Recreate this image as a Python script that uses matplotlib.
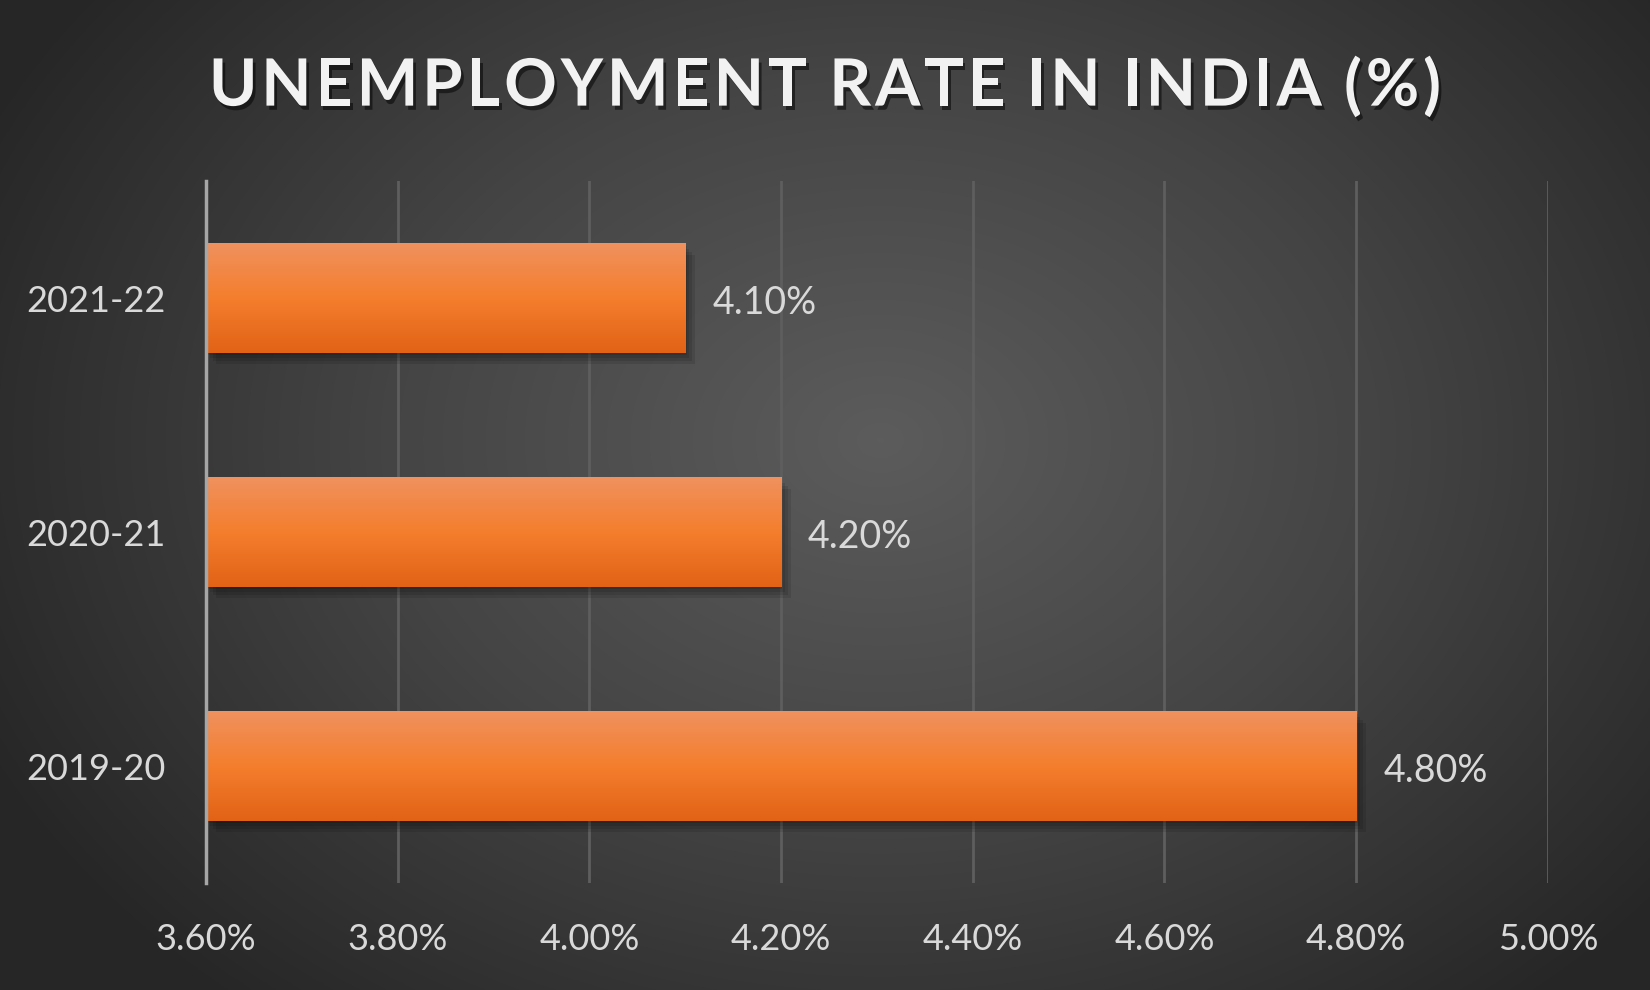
import numpy as np
import matplotlib
matplotlib.use("Agg")
from matplotlib import pyplot as plt
from matplotlib import patheffects as pe
from matplotlib.colors import LinearSegmentedColormap

plt.rcParams['font.family'] = ['Lato', 'DejaVu Sans']

years = ['2019-20', '2020-21', '2021-22']
rates = [4.8, 4.2, 4.1]
ticks = [3.6, 3.8, 4.0, 4.2, 4.4, 4.6, 4.8, 5.0]
title = 'UNEMPLOYMENT RATE IN INDIA (%)'

fig = plt.figure(figsize=(16.5, 9.9), dpi=100)

# radial gradient background
bg = fig.add_axes([0, 0, 1, 1], zorder=-5)
yy, xx = np.mgrid[0:990, 0:1650]
r = np.sqrt(((xx - 880) / 1000.0) ** 2 + ((yy - 440) / 750.0) ** 2)
r = np.clip(r, 0, 1)
bgcmap = LinearSegmentedColormap.from_list('bg', ['#5c5c5c', '#444444', '#262626'])
bg.imshow(r, cmap=bgcmap, aspect='auto', vmin=0, vmax=1)
bg.axis('off')

ax = fig.add_axes([0.1248, 0.108, 0.8133, 0.709])
ax.patch.set_alpha(0)

shadow = [pe.SimplePatchShadow(offset=(o, -o - 1), shadow_rgbFace='black', alpha=0.1)
          for o in (7, 5, 3, 1)]
bars = ax.barh(range(len(years)), [v - ticks[0] for v in rates], left=ticks[0],
               height=0.466, color='#f47b2a', zorder=3,
               path_effects=shadow + [pe.Normal()])

grad = np.linspace(0, 1, 100).reshape(-1, 1)
barcmap = LinearSegmentedColormap.from_list('bar', ['#f0915e', '#f47e2d', '#e26315'])
for b in bars:
    x0, y0 = b.get_x(), b.get_y()
    ax.imshow(grad, cmap=barcmap, extent=(x0, x0 + b.get_width(), y0, y0 + b.get_height()),
              aspect='auto', zorder=4)

for i, v in enumerate(rates):
    ax.annotate('%.2f%%' % v, (v, i), xytext=(27, -5), textcoords='offset pixels',
                va='center', ha='left', fontsize=27, color='#d9d9d9', zorder=6)

ax.set_xlim(ticks[0], ticks[-1])
ax.set_ylim(-0.5, len(years) - 0.5)
ax.set_xticks(ticks)
ax.set_xticklabels(['%.2f%%' % t for t in ticks])
ax.set_yticks(range(len(years)))
ax.set_yticklabels(years)
ax.tick_params(axis='both', length=0, labelsize=26, labelcolor='#d9d9d9')
ax.tick_params(axis='x', pad=29)
ax.tick_params(axis='y', pad=29)
ax.grid(axis='x', color='#5e5e5e', linewidth=2, zorder=1)
ax.set_axisbelow(True)
for s in ['top', 'right', 'bottom']:
    ax.spines[s].set_visible(False)
ax.spines['left'].set_color('#a6a6a6')
ax.spines['left'].set_linewidth(2.5)
ax.spines['left'].set_zorder(7)

# title with wide letter spacing, placed char by char
renderer = fig.canvas.get_renderer()
tprops = dict(fontsize=47, fontweight='bold', color='#f2f2f2', va='center', ha='left',
              path_effects=[pe.withSimplePatchShadow(offset=(2, -3), shadow_rgbFace='black', alpha=0.5)])
widths = []
for ch in title:
    t = fig.text(0, 0, ch if ch != ' ' else 'I', **tprops)
    w = t.get_window_extent(renderer).width
    widths.append(w * 0.75 if ch == ' ' else w)
    t.remove()
target = 1232.0
gap = (target - sum(widths)) / (len(title) - 1)
x = 825 - target / 2
for ch, w in zip(title, widths):
    if ch != ' ':
        fig.text(x / 1650, 0.912, ch, **tprops)
    x += w + gap

fig.savefig('out.png', dpi=100)
